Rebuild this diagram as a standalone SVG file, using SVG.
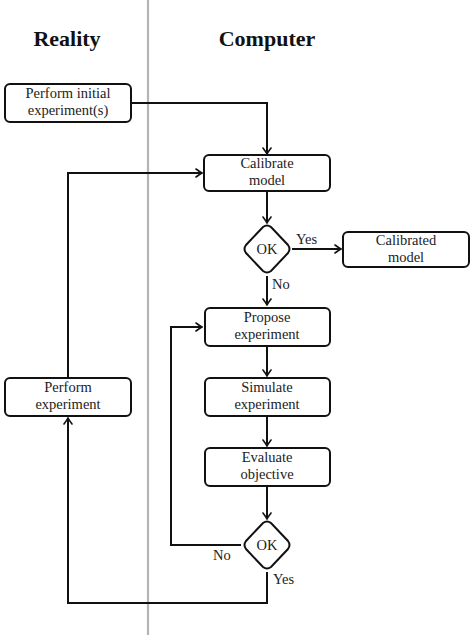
<svg xmlns="http://www.w3.org/2000/svg" width="474" height="635" viewBox="0 0 474 635" font-family="'Liberation Serif', 'Times New Roman', serif">
<style>
.box{fill:#fff;stroke:#111;stroke-width:2}
.t{font-family:'Liberation Serif','Times New Roman',serif;font-size:14.5px;fill:#222;text-anchor:middle}
.l{font-family:'Liberation Serif','Times New Roman',serif;font-size:14.5px;fill:#222}
.h{font-family:'Liberation Serif','Times New Roman',serif;font-size:22px;font-weight:bold;fill:#111;text-anchor:middle}
.c{fill:none;stroke:#111;stroke-width:2}
</style>
<defs>
<marker id="ar" viewBox="-6 -5 8 10" refX="1" refY="0" markerWidth="8" markerHeight="10" markerUnits="userSpaceOnUse" orient="auto">
<path d="M-5,-4 Q-1,-1 1,0 Q-1,1 -5,4" fill="none" stroke="#111" stroke-width="1.6" stroke-linecap="round"/>
</marker>
</defs>
<rect width="474" height="635" fill="#fff"/>
<line x1="148" y1="0" x2="148" y2="635" stroke="#b4b4b4" stroke-width="2.2"/>
<text class="h" x="67" y="46">Reality</text>
<text class="h" x="267" y="46">Computer</text>
<g id="connectors">
<path class="c" d="M131,103 H267 V154" marker-end="url(#ar)"/>
<path class="c" d="M68,378 V173 H202" marker-end="url(#ar)"/>
<path class="c" d="M267,191 V223" marker-end="url(#ar)"/>
<path class="c" d="M292,249 H341" marker-end="url(#ar)"/>
<path class="c" d="M267,276 V305" marker-end="url(#ar)"/>
<path class="c" d="M267,346 V376" marker-end="url(#ar)"/>
<path class="c" d="M267,416 V446" marker-end="url(#ar)"/>
<path class="c" d="M267,486 V519" marker-end="url(#ar)"/>
<path class="c" d="M241,545 H171 V327 H202" marker-end="url(#ar)"/>
<path class="c" d="M267,572 V603 H68 V418" marker-end="url(#ar)"/>
<text class="l" x="296" y="244">Yes</text>
<text class="l" x="272" y="289">No</text>
<text class="l" x="213" y="560">No</text>
<text class="l" x="273" y="584">Yes</text>
</g>
<g id="perform-initial">
<rect class="box" x="5" y="84" width="126" height="38" rx="5"/>
<text class="t" x="68" y="98">Perform initial</text>
<text class="t" x="68" y="115">experiment(s)</text>
</g>
<g id="calibrate">
<rect class="box" x="204" y="155" width="126" height="36" rx="5"/>
<text class="t" x="267" y="168">Calibrate</text>
<text class="t" x="267" y="185">model</text>
</g>
<g id="ok1">
<path class="box" d="M263,227 Q267,224 271,227 L288,245 Q291,249 288,253 L271,271 Q267,274 263,271 L246,253 Q243,249 246,245 Z"/>
<text class="t" x="267" y="254">OK</text>
</g>
<g id="calibrated">
<rect class="box" x="343" y="232" width="126" height="35" rx="5"/>
<text class="t" x="406" y="245">Calibrated</text>
<text class="t" x="406" y="262">model</text>
</g>
<g id="propose">
<rect class="box" x="205" y="308" width="125" height="38" rx="5"/>
<text class="t" x="267" y="322">Propose</text>
<text class="t" x="267" y="339">experiment</text>
</g>
<g id="simulate">
<rect class="box" x="205" y="378" width="125" height="38" rx="5"/>
<text class="t" x="267" y="392">Simulate</text>
<text class="t" x="267" y="409">experiment</text>
</g>
<g id="evaluate">
<rect class="box" x="205" y="448" width="125" height="38" rx="5"/>
<text class="t" x="267" y="462">Evaluate</text>
<text class="t" x="267" y="479">objective</text>
</g>
<g id="ok2">
<path class="box" d="M263,523 Q267,520 271,523 L288,541 Q291,545 288,549 L271,567 Q267,570 263,567 L246,549 Q243,545 246,541 Z"/>
<text class="t" x="267" y="550">OK</text>
</g>
<g id="perform">
<rect class="box" x="5" y="378" width="126" height="38" rx="5"/>
<text class="t" x="68" y="392">Perform</text>
<text class="t" x="68" y="409">experiment</text>
</g>
</svg>
